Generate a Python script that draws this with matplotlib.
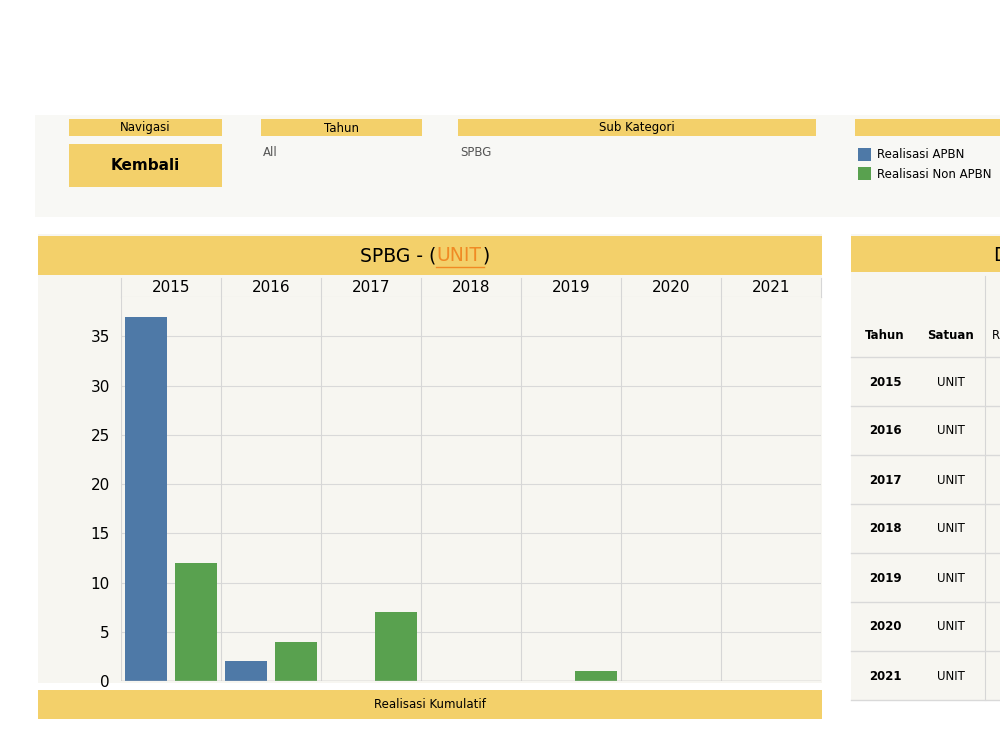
import matplotlib.pyplot as plt
from matplotlib.patches import Rectangle

years = ['2015', '2016', '2017', '2018', '2019', '2020', '2021']
apbn = [37, 2, 0, 0, 0, 0, 0]
non_apbn = [12, 4, 7, 0, 1, 0, 0]
satuan = ['UNIT'] * 7

W, H = 1000, 750
gold = '#f3d06a'
bg = '#f7f6f1'
blue = '#4e79a7'
green = '#59a14f'

fig = plt.figure(figsize=(10, 7.5), dpi=100)
fig.patch.set_facecolor('white')


def rect(x0, y0, x1, y1, color):
    fig.patches.append(Rectangle((x0 / W, 1 - y1 / H), (x1 - x0) / W, (y1 - y0) / H,
                                 transform=fig.transFigure, facecolor=color,
                                 edgecolor='none', lw=0, zorder=0))


def txt(x, y, s, **kw):
    fig.text(x / W, 1 - y / H, s, **kw)


def line(x0, y0, x1, y1, color='#d6d6d6', lw=0.8):
    fig.lines.append(plt.Line2D([x0 / W, x1 / W], [1 - y0 / H, 1 - y1 / H], color=color, lw=lw,
                                transform=fig.transFigure, zorder=1))


# filter bar
rect(35, 115, 1000, 217, '#f8f8f5')
rect(69, 119, 222, 136, gold)
txt(145, 128, 'Navigasi', ha='center', va='center', fontsize=8.5)
rect(69, 144, 222, 187, gold)
txt(145, 166, 'Kembali', ha='center', va='center', fontsize=11, fontweight='bold')
rect(261, 119, 422, 136, gold)
txt(341, 128, 'Tahun', ha='center', va='center', fontsize=8.5)
txt(263, 153, 'All', ha='left', va='center', fontsize=8.5, color='#555555')
rect(458, 119, 816, 136, gold)
txt(637, 128, 'Sub Kategori', ha='center', va='center', fontsize=8.5)
txt(460, 153, 'SPBG', ha='left', va='center', fontsize=8.5, color='#555555')
rect(855, 119, 1000, 136, gold)
rect(858, 148, 871, 161, blue)
txt(877, 155, 'Realisasi APBN', ha='left', va='center', fontsize=8.5)
rect(858, 167, 871, 180, green)
txt(877, 174, 'Realisasi Non APBN', ha='left', va='center', fontsize=8.5)

# chart panel
rect(38, 234, 822, 683, bg)
rect(38, 236, 822, 275, gold)
txt(436, 256, 'SPBG - (', ha='right', va='center', fontsize=13.5)
txt(436, 256, 'UNIT', ha='left', va='center', fontsize=13.5, color='#f08a24')
line(436, 267, 484, 267, color='#f08a24', lw=1)
txt(483, 256, ')', ha='left', va='center', fontsize=13.5)
for i, y in enumerate(years):
    txt(171 + 100 * i, 288, y, ha='center', va='center', fontsize=11)
    line(121 + 100 * i, 278, 121 + 100 * i, 297)
line(821, 278, 821, 297)
line(121, 297, 821, 297)
rect(38, 690, 822, 719, gold)
txt(430, 705, 'Realisasi Kumulatif', ha='center', va='center', fontsize=8.5)

ax = fig.add_axes([121 / W, 1 - 681 / H, 700 / W, 384 / H])
ax.set_zorder(5)
ax.set_facecolor(bg)
x = range(len(years))
ax.bar([i + 0.25 for i in x], apbn, width=0.42, color=blue, zorder=3)
ax.bar([i + 0.75 for i in x], non_apbn, width=0.42, color=green, zorder=3)
ax.set_xlim(0, 7)
ax.set_ylim(0, 39)
ax.set_xticks([])
ax.set_yticks(range(0, 40, 5))
ax.tick_params(axis='y', length=0, labelsize=11, pad=8)
ax.grid(axis='y', color='#d9d9d9', lw=0.8)
for i in range(8):
    ax.axvline(i, color='#d6d6d6', lw=0.8)
for s in ax.spines.values():
    s.set_visible(False)
ax.axhline(0, color='#bbbbbb', lw=1, zorder=4)

# table panel
rect(851, 234, 1000, 700, bg)
rect(851, 236, 1000, 272, gold)
txt(993, 255, 'D', ha='left', va='center', fontsize=13.5)
txt(885, 336, 'Tahun', ha='center', va='center', fontsize=8.5, fontweight='bold')
txt(951, 336, 'Satuan', ha='center', va='center', fontsize=8.5, fontweight='bold')
txt(992, 336, 'R', ha='left', va='center', fontsize=8.5)
line(985, 276, 985, 700)
for i, (y, s) in enumerate(zip(years, satuan)):
    cy = 382 + 49 * i
    txt(885, cy, y, ha='center', va='center', fontsize=8.5, fontweight='bold')
    txt(951, cy, s, ha='center', va='center', fontsize=8.5)
    line(851, cy - 25, 1000, cy - 25, color='#d9d9d9', lw=1)
line(851, 700, 1000, 700, color='#d9d9d9', lw=1)

fig.savefig('out.png', dpi=100)
